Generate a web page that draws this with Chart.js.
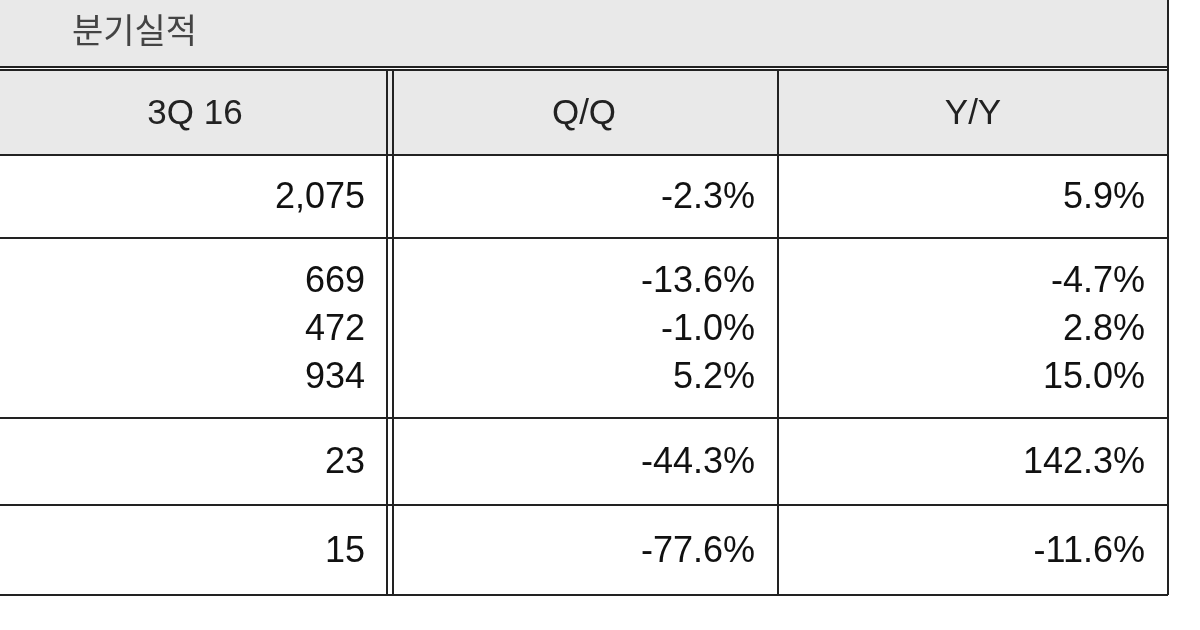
<!DOCTYPE html>
<html>
<head>
<meta charset="utf-8">
<script src="https://cdn.jsdelivr.net/npm/chart.js@4"></script>
<style>html,body{margin:0;padding:0;background:#fff}</style>
</head>
<body>
<canvas id="tbl" width="1200" height="630"></canvas>
<script>
// data
var title = '분기실적';
var columns = ['3Q 16', 'Q/Q', 'Y/Y'];
var col3Q16 = [['2,075'], ['669', '472', '934'], ['23'], ['15']];
var colQoQ = [['-2.3%'], ['-13.6%', '-1.0%', '5.2%'], ['-44.3%'], ['-77.6%']];
var colYoY = [['5.9%'], ['-4.7%', '2.8%', '15.0%'], ['142.3%'], ['-11.6%']];

// layout (pixels in the 1200x630 frame, mapped through the scales)
var rowEdges = [70, 155, 238, 418, 505, 595];
var colEdges = [0, 390, 778, 1168];
var lineGap = 48;

var tablePlugin = {
  id: 'tablePlugin',
  afterDraw: function (chart) {
    var ctx = chart.ctx, x = chart.scales.x, y = chart.scales.y;
    var X = function (v) { return x.getPixelForValue(v); };
    var Y = function (v) { return y.getPixelForValue(v); };
    ctx.save();
    // title bar + header fill
    ctx.fillStyle = '#e9e9e9';
    ctx.fillRect(X(0), Y(0), X(1168) - X(0), Y(68) - Y(0));
    ctx.fillRect(X(0), Y(70), X(1168) - X(0), Y(155) - Y(70));
    ctx.fillStyle = '#444';
    ctx.font = '34px "Noto Sans CJK KR"';
    ctx.textBaseline = 'middle';
    ctx.fillText(title, X(72), Y(30));

    // lines
    ctx.strokeStyle = '#222';
    ctx.lineWidth = 2;
    ctx.beginPath();
    ctx.moveTo(X(1168), Y(0)); ctx.lineTo(X(1168), Y(595));
    ctx.moveTo(X(0), Y(67)); ctx.lineTo(X(1168), Y(67));
    rowEdges.forEach(function (r) { ctx.moveTo(X(0), Y(r)); ctx.lineTo(X(1168), Y(r)); });
    ctx.moveTo(X(387), Y(70)); ctx.lineTo(X(387), Y(595));
    ctx.moveTo(X(393), Y(70)); ctx.lineTo(X(393), Y(595));
    ctx.moveTo(X(778), Y(70)); ctx.lineTo(X(778), Y(595));
    ctx.stroke();

    // header
    ctx.fillStyle = '#222';
    ctx.font = '35px "Liberation Sans", Arial';
    ctx.textAlign = 'center';
    columns.forEach(function (c, i) {
      ctx.fillText(c, X((colEdges[i] + colEdges[i + 1]) / 2), Y(114));
    });

    // body
    ctx.fillStyle = '#111';
    ctx.font = '36px "Liberation Sans", Arial';
    ctx.textAlign = 'right';
    var rights = [365, 755, 1145];
    [col3Q16, colQoQ, colYoY].forEach(function (col, ci) {
      col.forEach(function (cell, ri) {
        var mid = (rowEdges[ri + 1] + rowEdges[ri + 2]) / 2;
        var start = mid - (cell.length - 1) * lineGap / 2;
        cell.forEach(function (t, li) {
          ctx.fillText(t, X(rights[ci]), Y(start + li * lineGap + 2));
        });
      });
    });
    ctx.restore();
  }
};

new Chart(document.getElementById('tbl'), {
  type: 'scatter',
  data: { datasets: [{ data: [] }] },
  options: {
    responsive: false,
    animation: false,
    layout: { padding: 0 },
    plugins: { legend: { display: false }, tooltip: { enabled: false } },
    scales: {
      x: { type: 'linear', min: 0, max: 1200, display: false },
      y: { type: 'linear', min: 0, max: 630, reverse: true, display: false }
    }
  },
  plugins: [tablePlugin]
});
</script>
</body>
</html>
